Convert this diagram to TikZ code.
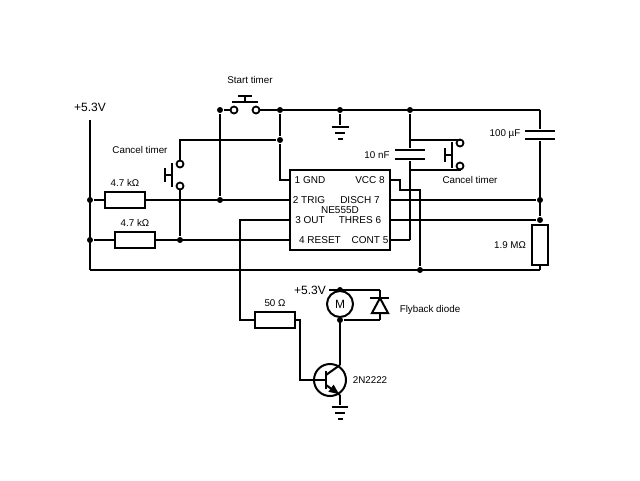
\documentclass[tikz,border=0pt]{standalone}
\usepackage{fontspec}
\setmainfont{Liberation Sans}

\begin{document}
\begin{tikzpicture}[x=1pt,y=-1pt,line width=2pt,
	dot/.style = {circle,fill=black,inner sep = 0pt, minimum size = 6pt},
	contact/.style = {circle,draw,fill=white,inner sep = 0pt, minimum size = 7pt,line width=1.8pt},
	res/.style = {rectangle,draw,fill=white,inner sep = 0pt, minimum width = 40pt, minimum height = 16pt},
	plate/.style = {rectangle,fill=black,inner sep = 0pt, minimum width = #1, minimum height = 2pt},
	pin/.style = {inner sep = 0pt,font=\fontsize{10}{12}\selectfont},
	lbl/.style = {inner sep = 0pt,font=\fontsize{9.8}{11}\selectfont}]
	
	\path[use as bounding box,fill=white] (0,0) rectangle (640,480);
	
	% left side
	\coordinate (top) at (90,120);
	\node[dot] (j1) at (90,200) {};
	\node[dot] (j2) at (90,240) {};
	\coordinate (bl) at (90,270);
	\node[res] (r1) at (125,200) {};
	\node[res] (r2) at (135,240) {};
	\node[dot] (j3) at (180,240) {};
	\node[dot] (j4) at (220,110) {};
	\node[dot] (j5) at (220,200) {};
	\node[dot] (j6) at (280,110) {};
	\node[dot] (j7) at (280,140) {};
	\node[contact] (c1) at (234,110) {};
	\node[contact] (c2) at (256,110) {};
	\node[contact] (c3) at (180,164) {};
	\node[contact] (c4) at (180,186) {};
	
	% chip
	\node[rectangle,draw,fill=white,inner sep = 0pt,minimum width=100pt,minimum height=80pt] (ic) at (340,210) {};
	\coordinate (p1) at (290,180);
	\coordinate (p2) at (290,200);
	\coordinate (p3) at (290,220);
	\coordinate (p4) at (290,240);
	\coordinate (p5) at (390,240);
	\coordinate (p6) at (390,220);
	\coordinate (p7) at (390,200);
	\coordinate (p8) at (390,180);
	\node[pin] (t1) at (310,180) {1 GND};
	\node[pin] (t2) at (309,200) {2 TRIG};
	\node[pin] (t3) at (310,220) {3 OUT};
	\node[pin] (t4) at (320,240) {4 RESET};
	\node[pin] (t5) at (370,240) {CONT 5};
	\node[pin] (t6) at (360,220) {THRES 6};
	\node[pin] (t7) at (360,200) {DISCH 7};
	\node[pin] (t8) at (370,180) {VCC 8};
	\node[pin] (t9) at (340,210) {NE555D};
	
	% top right
	\node[dot] (j8) at (340,110) {};
	\node[dot] (j9) at (410,110) {};
	\coordinate (tr) at (540,110);
	\node[plate=30pt] (c5a) at (540,131) {};
	\node[plate=30pt] (c5b) at (540,139) {};
	\node[plate=30pt] (c6a) at (410,150) {};
	\node[plate=30pt] (c6b) at (410,159) {};
	\node[plate=17pt] (g1) at (340,127) {};
	\node[plate=10pt] (g2) at (340,133) {};
	\node[plate=5pt] (g3) at (340,139) {};
	\coordinate (k1) at (410,140);
	\coordinate (k2) at (410,170);
	\node[contact] (c7) at (460,143) {};
	\node[contact] (c8) at (460,166) {};
	\coordinate (k3) at (410,240);
	\node[dot] (j10) at (540,200) {};
	\node[dot] (j11) at (540,220) {};
	\node[res,minimum width=16pt,minimum height=40pt] (r3) at (540,245) {};
	\coordinate (br) at (540,270);
	\node[dot] (j12) at (420,270) {};
	
	% driver
	\node[res] (r4) at (275,320) {};
	\node[dot] (j13) at (340,290) {};
	\node[dot] (j14) at (340,320) {};
	\node[circle,draw,fill=white,inner sep = 0pt,minimum size = 26pt,font=\fontsize{12}{14}\selectfont] (m) at (340,304) {M};
	\coordinate (v) at (329,290);
	\coordinate (d1) at (380,290);
	\coordinate (d2) at (380,320);
	\node[circle,draw,inner sep = 0pt,minimum size = 32pt] (q) at (330,380) {};
	\coordinate (qb) at (326,380);
	\coordinate (qc) at (326,375);
	\coordinate (qe) at (326,385);
	\coordinate (qc2) at (340,365);
	\coordinate (qe2) at (340,395);
	\node[plate=16pt] (g4) at (340,407) {};
	\node[plate=10pt] (g5) at (340,413) {};
	\node[plate=5pt] (g6) at (340,419) {};
	
	% labels
	\node[inner sep = 0pt,font=\fontsize{12}{14}\selectfont] (l1) at (90,107) {+5.3V};
	\node[inner sep = 0pt,font=\fontsize{12}{14}\selectfont] (l2) at (310,290) {+5.3V};
	\node[lbl] (l3) at (125,183) {4.7 kΩ};
	\node[lbl] (l4) at (135,223) {4.7 kΩ};
	\node[lbl] (l5) at (250,80) {Start timer};
	\node[lbl] (l6) at (140,150) {Cancel timer};
	\node[lbl] (l7) at (470,180) {Cancel timer};
	\node[lbl] (l8) at (377,155) {10 nF};
	\node[lbl] (l9) at (505,134) {100 µF};
	\node[lbl] (l10) at (510,245) {1.9 MΩ};
	\node[lbl] (l11) at (275,303) {50 Ω};
	\node[lbl] (l12) at (430,310) {Flyback diode};
	\node[lbl] (l13) at (370,380) {2N2222};
	
	\path[-]
	(top) edge node {} (bl)
	(bl) edge node {} (br)
	(br) edge node {} (r3)
	(j1) edge node {} (r1)
	(r1) edge node {} (p2)
	(j2) edge node {} (r2)
	(r2) edge node {} (p4)
	(j3) edge node {} (c4)
	(j4) edge node {} (c1)
	(j4) edge node {} (j5)
	(c2) edge node {} (tr)
	(j6) edge node {} (j7)
	(j8) edge node {} (g1)
	(j9) edge node {} (c6a)
	(c6b) edge node {} (k3)
	(k3) edge node {} (p5)
	(tr) edge node {} (c5a)
	(c5b) edge node {} (j11)
	(j11) edge node {} (r3)
	(p7) edge node {} (j10)
	(p6) edge node {} (j11)
	(v) edge node {} (d1)
	(d2) edge node {} (j14)
	(qc) edge node {} (qc2)
	(qc2) edge node {} (m)
	(qe) edge node {} (qe2)
	(qe2) edge node {} (g4);
	
	\draw (c3) |- (j7);
	\draw (j7) |- (p1);
	\draw (k1) -| (c7);
	\draw (k2) -| (c8);
	\draw (p3) -| (240,320) -- (r4);
	\draw (r4) -| (300,380) -- (qb);
	\draw (p8) -- (400,180) -- (400,190) -- (420,190) -- (j12);
	
	% switches
	\draw (238,96) -- (252,96) (245,96) -- (245,102) (232,102) -- (258,102);
	\draw (165,168) -- (165,182) (165,175) -- (172,175) (172,163) -- (172,187);
	\draw (445,148) -- (445,162) (445,155) -- (452,155) (452,142) -- (452,168);
	
	% flyback diode, base bar and emitter head
	\draw (d1) -- (380,298) (370,298) -- (389,298);
	\draw (380,298) -- (372,313) -- (388,313) -- cycle;
	\draw (380,313) -- (d2);
	\draw (326,371) -- (326,389);
	\fill[line width=0pt] (339,394) -- (333.6,384.6) -- (328.4,391.8) -- cycle;
\end{tikzpicture}
\end{document}
